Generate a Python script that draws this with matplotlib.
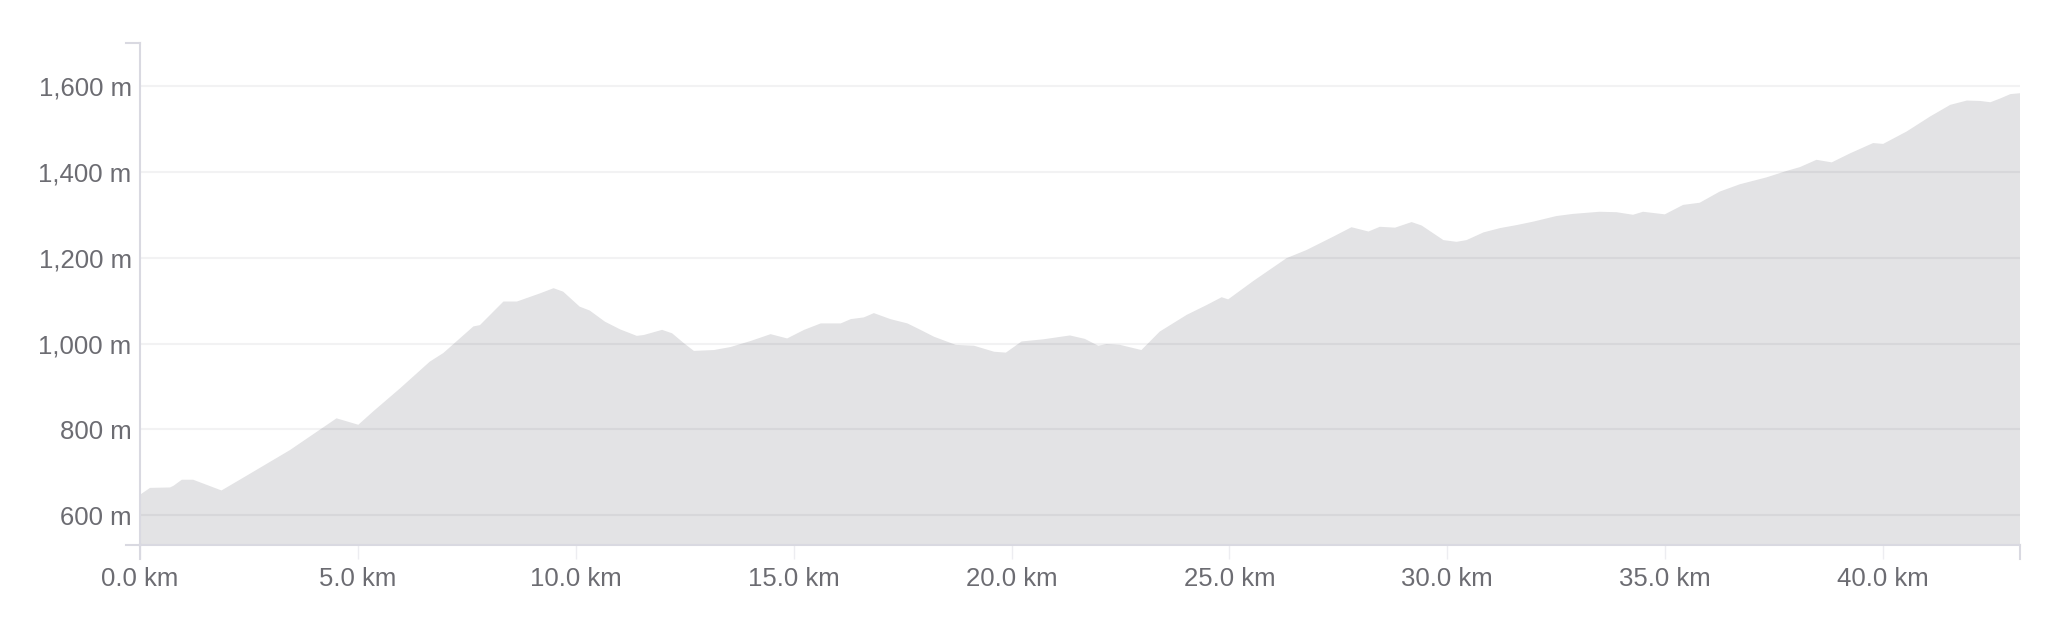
import matplotlib
matplotlib.use("Agg")
import matplotlib.pyplot as plt
from matplotlib.ticker import FuncFormatter

# ---- data ----
distance_km = [0, 0.23, 0.69, 0.77, 0.96, 1.22, 1.87, 2.29, 3.44, 4.51, 5.01, 5.35, 5.97,
               6.65, 6.96, 7.65, 7.8, 8.34, 8.65, 9.18, 9.49, 9.71, 10.09, 10.32, 10.67,
               11.02, 11.40, 11.56, 11.98, 12.21, 12.48, 12.71, 13.17, 13.55, 14.01, 14.47,
               14.85, 15.24, 15.62, 16.08, 16.31, 16.61, 16.84, 17.22, 17.61, 17.91, 18.22,
               18.72, 19.14, 19.6, 19.87, 20.23, 20.73, 21.34, 21.68, 21.99, 22.18, 22.49,
               22.98, 23.40, 24.02, 24.48, 24.82, 24.97, 25.55, 26.31, 26.77, 27.38, 27.80,
               28.19, 28.45, 28.80, 29.18, 29.41, 29.91, 30.21, 30.44, 30.83, 31.21, 31.59,
               31.97, 32.50, 32.88, 33.49, 33.88, 34.26, 34.49, 34.99, 35.41, 35.79, 36.25,
               36.71, 37.32, 37.78, 38.09, 38.47, 38.82, 39.24, 39.77, 40.0, 40.54, 41.08,
               41.54, 41.92, 42.23, 42.46, 42.69, 42.92, 43.14]
elevation_m = [648, 664, 665, 669, 683, 683, 658, 683, 752, 826, 811, 842, 896,
               958, 978, 1040, 1043, 1098, 1098, 1117, 1129, 1121, 1086, 1077, 1051,
               1033, 1018, 1020, 1032, 1024, 1001, 983, 985, 992, 1006, 1022,
               1012, 1032, 1047, 1047, 1057, 1061, 1071, 1057, 1047, 1032, 1016,
               997, 995, 981, 979, 1005, 1010, 1019, 1011, 995, 999, 997,
               985, 1028, 1067, 1090, 1108, 1103, 1146, 1199, 1218, 1249, 1271,
               1261, 1272, 1270, 1283, 1275, 1241, 1237, 1241, 1259, 1269, 1276,
               1284, 1297, 1302, 1307, 1306, 1300, 1307, 1301, 1323, 1328, 1354,
               1371, 1387, 1402, 1411, 1428, 1422, 1443, 1467, 1465, 1494, 1529,
               1556, 1566, 1565, 1562, 1571, 1581, 1583]
x_ticks = [0, 5, 10, 15, 20, 25, 30, 35, 40]
y_ticks = [600, 800, 1000, 1200, 1400, 1600]

# ---- style ----
TEXT = "#6c6c72"
AXIS = "#d9d9e1"
FILL = "#e3e3e5"
plt.rcParams["font.family"] = ["Liberation Sans", "DejaVu Sans"]

fig = plt.figure(figsize=(20.48, 6.27), dpi=100)
ax = fig.add_axes([140 / 2048, 1 - 545 / 627, 1880 / 2048, 502 / 627])

ax.fill_between(distance_km, elevation_m, 0, color=FILL, linewidth=0, zorder=1)

ax.set_xlim(0, distance_km[-1])
ax.set_ylim(531, 1700)

for y in y_ticks:
    ax.axhline(y, color=(0, 0, 0.1, 0.05), linewidth=1.6, zorder=2)

ax.set_xticks(x_ticks)
ax.set_yticks(y_ticks)
ax.xaxis.set_major_formatter(FuncFormatter(lambda v, p: f"{v:.1f} km"))
ax.yaxis.set_major_formatter(FuncFormatter(lambda v, p: f"{int(v):,} m"))

ax.tick_params(axis="x", length=10, width=1.0, color="#ededf1", pad=6,
               labelsize=18.5, labelcolor=TEXT)
ax.tick_params(axis="y", length=0, pad=6, labelsize=18.5, labelcolor=TEXT)

for s in ["top", "right"]:
    ax.spines[s].set_visible(False)
for s in ["left", "bottom"]:
    ax.spines[s].set_color(AXIS)
    ax.spines[s].set_linewidth(1.5)
    ax.spines[s].set_zorder(3)

# axis end caps (decorations in axes coordinates)
tr = ax.transAxes
cap_dx = 14 / 1880
cap_dy = 14 / 502
ax.plot([0, -cap_dx], [1, 1], transform=tr, color=AXIS, lw=1.5, clip_on=False, zorder=3)
ax.plot([0, -cap_dx], [0, 0], transform=tr, color=AXIS, lw=1.5, clip_on=False, zorder=3)
ax.plot([0, 0], [0, -cap_dy], transform=tr, color=AXIS, lw=1.5, clip_on=False, zorder=3)
ax.plot([1, 1], [0, -cap_dy], transform=tr, color=AXIS, lw=1.5, clip_on=False, zorder=3)

fig.savefig("out.png", dpi=100, facecolor="white")
